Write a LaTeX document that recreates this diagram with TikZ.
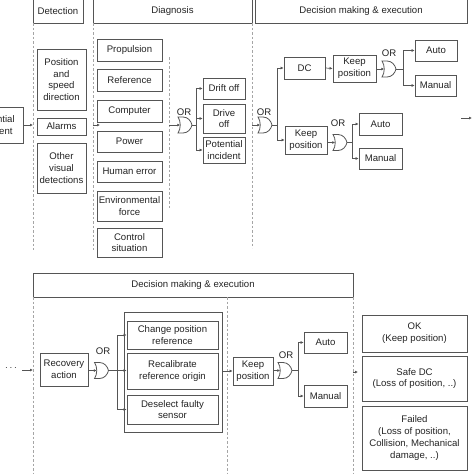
\documentclass[tikz,border=0pt]{standalone}
\usepackage{fontspec}
\setmainfont{Liberation Sans}
\usetikzlibrary{arrows.meta}
\definecolor{ln}{RGB}{85,85,85}
\definecolor{tx}{RGB}{35,35,35}
\definecolor{dsh}{RGB}{165,165,165}
\newcommand\bx[6]{\node[box,minimum width=#4,minimum height=#5] (#1) at (#2,#3) {#6};}
\begin{document}
\begin{tikzpicture}[x=1pt,y=-1pt,
  box/.style={draw=ln, line width=0.85pt, text=tx, align=center, inner sep=0pt,
    font=\fontsize{9.6}{11.8}\selectfont},
  lbl/.style={text=tx, inner sep=0pt, font=\fontsize{9.6}{11.8}\selectfont},
  wire/.style={draw=ln, line width=0.7pt},
  arr/.style={wire, -{Latex[length=3pt,width=3pt]}},
  dsh/.style={draw=dsh, line width=0.8pt, dash pattern=on 2.5pt off 2pt},
  gateline/.style={draw=ln, line width=0.8pt},
  orgate/.pic={
    \draw[gateline] (-7,-8) -- (-2,-8) .. controls (3,-8) and (6,-4) .. (7,0)
      .. controls (6,4) and (3,8) .. (-2,8) -- (-7,8)
      .. controls (-4,4) and (-4,-4) .. (-7,-8) -- cycle;
    \coordinate (-in) at (-4.75,0);
    \coordinate (-out) at (7,0);
  }]
\useasboundingbox (0,0) rectangle (474,474);

% ---------- top headers ----------
\bx{det}{58}{11}{50}{24}{Detection}
\bx{diag}{172.5}{11}{159}{24}{Diagnosis}
\bx{dec}{361}{11}{212}{24}{Decision making \& execution}

% dashed column lines (top)
\coordinate (c1t) at (33,23);   \coordinate (c1b) at (33,250);
\coordinate (c2t) at (93,23);   \coordinate (c2b) at (93,250);
\coordinate (c3t) at (169,57);  \coordinate (c3b) at (169,208);
\coordinate (c4t) at (252,23);  \coordinate (c4b) at (252,248);
\draw[dsh] (c1t) -- (c1b);
\draw[dsh] (c2t) -- (c2b);
\draw[dsh] (c3t) -- (c3b);
\draw[dsh] (c4t) -- (c4b);

% left cut-off box
\bx{pinc0}{-4}{125}{54}{36}{Potential\\incident}
\draw[arr] (pinc0.east) -- (pinc0.east -| c1t);

% Detection
\bx{pos}{61.5}{79.5}{49}{61}{Position\\and\\speed\\direction}
\bx{alarm}{61.5}{126.5}{49}{17}{Alarms}
\bx{other}{61.5}{168}{49}{50}{Other\\visual\\detections}

% Diagnosis
\bx{prop}{129.5}{50}{65}{22}{Propulsion}
\bx{ref}{129.5}{80}{65}{22}{Reference}
\bx{comp}{129.5}{111}{65}{22}{Computer}
\bx{pow}{129.5}{141.5}{65}{21}{Power}
\bx{hum}{129.5}{171.5}{65}{21}{Human error}
\bx{env}{129.5}{206}{65}{30}{Environmental\\force}
\bx{ctrl}{129.5}{242.5}{65}{29}{Control\\situation}
\coordinate (s2a) at (93,125); \coordinate (s2b) at (100,125);
\draw[arr] (s2a) -- (s2b);

% gate 1
\pic (g1) at (185,125) {orgate};
\node[lbl] (or1) at (184,112) {OR};
\draw[arr] (c3t |- g1-in) -- (g1-in);
\bx{drift}{224}{88.5}{42}{21}{Drift off}
\bx{drive}{224}{118.5}{42}{29}{Drive\\off}
\bx{pinc}{224}{150}{42}{26}{Potential\\incident}
\coordinate (v1) at (196,0);
\draw[wire] (g1-out) -- (v1 |- g1-out);
\draw[wire] (v1 |- drift) -- (v1 |- pinc);
\draw[arr] (v1 |- drift) -- (drift.west);
\draw[arr] (v1 |- drive) -- (drive.west);
\draw[arr] (v1 |- pinc) -- (pinc.west);

% gate 2
\pic (g2) at (265,125) {orgate};
\node[lbl] (or2) at (264,112) {OR};
\draw[arr] (c4t |- g2-in) -- (g2-in);
\bx{dc}{304.5}{68}{41}{22}{DC}
\bx{keepa}{354.5}{68.5}{43}{27}{Keep\\position}
\bx{keepb}{306}{140}{42}{28}{Keep\\position}
\coordinate (v2) at (277,0);
\draw[wire] (g2-out) -- (v2 |- g2-out);
\draw[wire] (v2 |- dc) -- (v2 |- keepb);
\draw[arr] (v2 |- dc) -- (dc.west);
\draw[arr] (v2 |- keepb) -- (keepb.west);
\draw[arr] (dc.east) -- (keepa.west);

% gate 3
\pic (g3) at (389,69) {orgate};
\node[lbl] (or3) at (389,53) {OR};
\draw[arr] (keepa.east |- g3-in) -- (g3-in);
\bx{autoa}{436}{50.5}{42}{21}{Auto}
\bx{mana}{435.5}{85.5}{41}{21}{Manual}
\coordinate (v3) at (403,0);
\draw[wire] (g3-out) -- (v3 |- g3-out);
\draw[wire] (v3 |- autoa) -- (v3 |- mana);
\draw[arr] (v3 |- autoa) -- (autoa.west);
\draw[arr] (v3 |- mana) -- (mana.west);

% gate 4
\pic (g4) at (340,142.5) {orgate};
\node[lbl] (or4) at (338,123) {OR};
\draw[arr] (keepb.east |- g4-in) -- (g4-in);
\bx{autob}{380.5}{124}{43}{22}{Auto}
\bx{manb}{380.5}{158.5}{43}{21}{Manual}
\coordinate (v4) at (352,0);
\draw[wire] (g4-out) -- (v4 |- g4-out);
\draw[wire] (v4 |- autob) -- (v4 |- manb);
\draw[arr] (v4 |- autob) -- (autob.west);
\draw[arr] (v4 |- manb) -- (manb.west);

% right stub arrow
\coordinate (ra) at (461,118); \coordinate (rb) at (472,118);
\draw[arr] (ra) -- (rb);

% ---------- bottom section ----------
\bx{decb}{193}{285}{320}{24}{Decision making \& execution}
\coordinate (b1t) at (33,297);  \coordinate (b1b) at (33,474);
\coordinate (b2t) at (227,297); \coordinate (b2b) at (227,474);
\coordinate (b3t) at (353,297); \coordinate (b3b) at (353,474);
\draw[dsh] (b1t) -- (b1b);
\draw[dsh] (b2t) -- (b2b);
\draw[dsh] (b3t) -- (b3b);

\node[lbl] (dots) at (11,368) {$\cdots$};
\coordinate (da) at (22,370);
\draw[arr] (da) -- (da -| b1t);

\bx{rec}{64}{369.5}{48}{33}{Recovery\\action}
\pic (g5) at (101.5,370.5) {orgate};
\node[lbl] (or5) at (103,351) {OR};
\draw[arr] (rec.east |- g5-in) -- (g5-in);

\bx{outer}{173}{372}{98}{120}{}
\bx{cpr}{172.5}{335}{91}{28}{Change position\\reference}
\bx{rro}{172.5}{371}{91}{36}{Recalibrate\\reference origin}
\bx{dfs}{172.5}{409.5}{91}{29}{Deselect faulty\\sensor}
\coordinate (v5) at (117,0);
\draw[arr] (g5-out) -- (g5-out -| rro.west);
\draw[wire] (v5 |- cpr) -- (v5 |- dfs);
\draw[arr] (v5 |- cpr) -- (cpr.west);
\draw[arr] (v5 |- dfs) -- (dfs.west);

\bx{keepc}{253}{371}{40}{28}{Keep\\position}
\draw[arr] (outer.east |- keepc) -- (keepc.west);
\pic (g6) at (285,370.5) {orgate};
\node[lbl] (or6) at (286,355) {OR};
\draw[arr] (keepc.east |- g6-in) -- (g6-in);
\bx{autoc}{325.5}{342.5}{43}{21}{Auto}
\bx{manc}{325.5}{396}{43}{22}{Manual}
\coordinate (v6) at (298,0);
\draw[wire] (g6-out) -- (v6 |- g6-out);
\draw[wire] (v6 |- autoc) -- (v6 |- manc);
\draw[arr] (v6 |- autoc) -- (autoc.west);
\draw[arr] (v6 |- manc) -- (manc.west);

\coordinate (oa) at (353,372); \coordinate (ob) at (358,372);
\draw[arr] (oa) -- (ob);

\bx{ok}{414.5}{333.5}{105}{37}{OK\\(Keep position)}
\bx{safe}{414.5}{378.5}{105}{45}{Safe DC\\(Loss of position, ..)}
\bx{fail}{414.5}{438}{105}{64}{Failed\\(Loss of position,\\Collision, Mechanical\\damage, ..)}
\end{tikzpicture}
\end{document}
